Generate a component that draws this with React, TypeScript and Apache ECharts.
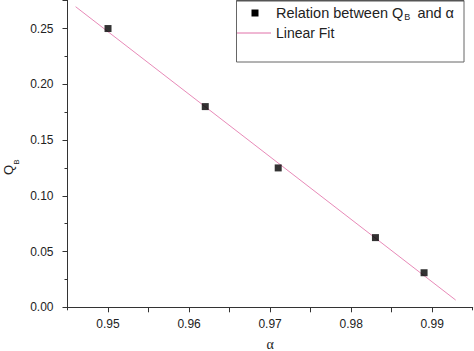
import React, { useEffect, useRef } from "react";
import * as echarts from "echarts";

const alphaValues = [0.95, 0.962, 0.971, 0.983, 0.989];
const qbValues = [0.25, 0.18, 0.125, 0.0625, 0.031];
const fitAlpha = [0.946, 0.9929];
const fitQb = [0.2696, 0.0065];
const xTicks = [0.95, 0.96, 0.97, 0.98, 0.99];
const yTicks = [0, 0.05, 0.1, 0.15, 0.2, 0.25];

const FONT = "Liberation Sans, Arial, sans-serif";

export default function App() {
  const ref = useRef<HTMLDivElement>(null);
  useEffect(() => {
    if (!ref.current) return;
    const chart = echarts.init(ref.current, undefined, { renderer: "svg" });
    const near = (v: number, arr: number[]) => arr.some((t) => Math.abs(t - v) < 1e-6);
    const xBase = {
      type: "value",
      min: 0.945,
      max: 0.995,
      interval: 0.005,
      position: "bottom",
      splitLine: { show: false },
    };
    chart.setOption({
      animation: false,
      backgroundColor: "#fff",
      grid: {
        left: 67.5,
        right: 1.3,
        top: 0,
        bottom: 43.7,
        containLabel: false,
        outerBoundsMode: "none",
      },
      xAxis: [
        {
          ...xBase,
          name: "α",
          nameLocation: "middle",
          nameGap: 30,
          nameTextStyle: { fontFamily: "Liberation Serif, serif", fontSize: 14, color: "#222" },
          axisLine: { show: true, onZero: false, lineStyle: { color: "#333", width: 1 } },
          axisTick: {
            show: true,
            inside: false,
            length: 5,
            lineStyle: { color: "#333" },
            interval: (i: number, v: any) => near(Number(v), xTicks),
          },
          axisLabel: {
            margin: 11,
            fontFamily: FONT,
            fontSize: 12,
            color: "#222",
            formatter: (v: number) => (near(v, xTicks) ? v.toFixed(2) : ""),
            showMinLabel: false,
            showMaxLabel: false,
          },
        },
        {
          ...xBase,
          axisLine: { show: false, onZero: false },
          axisTick: { show: true, inside: false, length: 3, lineStyle: { color: "#333" } },
          axisLabel: { show: false },
        },
      ],
      yAxis: {
        type: "value",
        min: 0,
        max: 0.2756,
        interval: 0.05,
        axisLine: { show: true, lineStyle: { color: "#333", width: 1 } },
        axisTick: { show: true, inside: false, length: 5, lineStyle: { color: "#333" } },
        minorTick: { show: true, splitNumber: 2, length: 3, lineStyle: { color: "#333" } },
        axisLabel: {
          margin: 14,
          fontFamily: FONT,
          fontSize: 12,
          color: "#222",
          formatter: (v: number) => (near(v, yTicks) ? v.toFixed(2) : ""),
          showMaxLabel: false,
        },
        splitLine: { show: false },
      },
      series: [
        {
          name: "fit",
          type: "line",
          data: fitAlpha.map((a, i) => [a, fitQb[i]]),
          showSymbol: false,
          symbol: "none",
          lineStyle: { color: "#e88ab8", width: 1 },
          z: 1,
        },
        {
          name: "data",
          type: "scatter",
          data: alphaValues.map((a, i) => [a, qbValues[i]]),
          symbol: "rect",
          symbolSize: 7,
          itemStyle: { color: "#000" },
          z: 3,
        },
      ],
      graphic: [
        {
          type: "text",
          x: 8,
          y: 170,
          rotation: Math.PI / 2,
          style: {
            text: "Q",
            align: "center",
            verticalAlign: "middle",
            fontFamily: FONT,
            fontSize: 13,
            fill: "#222",
          },
        },
        {
          type: "text",
          x: 16,
          y: 162,
          rotation: Math.PI / 2,
          style: {
            text: "B",
            align: "center",
            verticalAlign: "middle",
            fontFamily: FONT,
            fontSize: 8,
            fill: "#222",
          },
        },
        {
          type: "rect",
          shape: { x: 236.5, y: 0.5, width: 227.5, height: 61.5 },
          style: { fill: "#fff", stroke: "#666", lineWidth: 1 },
          z: 10,
        },
        {
          type: "line",
          shape: { x1: 236.5, y1: 0.5, x2: 464, y2: 0.5 },
          style: { stroke: "#555", lineWidth: 2 },
          z: 11,
        },
        {
          type: "rect",
          shape: { x: 251.5, y: 9.5, width: 7, height: 7 },
          style: { fill: "#000" },
          z: 11,
        },
        {
          type: "text",
          x: 276,
          y: 13,
          style: {
            text: "{a|Relation between Q}{s|B}{a| and α}",
            verticalAlign: "middle",
            rich: {
              a: { fontFamily: FONT, fontSize: 14.5, fill: "#222" },
              s: { fontFamily: FONT, fontSize: 9, fill: "#222", padding: [8, 3, 0, 1] },
            },
          },
          z: 11,
        },
        {
          type: "line",
          shape: { x1: 237, y1: 33, x2: 271, y2: 33 },
          style: { stroke: "#e070a8", lineWidth: 1 },
          z: 11,
        },
        {
          type: "text",
          x: 276,
          y: 33,
          style: {
            text: "Linear Fit",
            verticalAlign: "middle",
            fontFamily: FONT,
            fontSize: 14,
            fill: "#222",
          },
          z: 11,
        },
      ],
    });
    return () => chart.dispose();
  }, []);
  return <div ref={ref} style={{ width: 474, height: 351, position: "absolute", left: 0, top: 0 }} />;
}
